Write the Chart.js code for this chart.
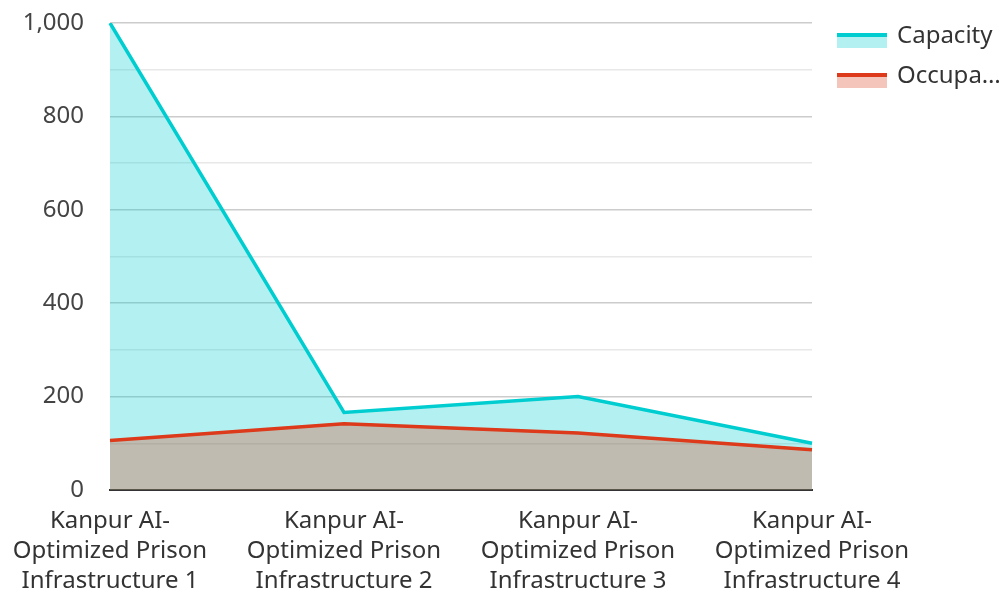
<!DOCTYPE html>
<html>
<head>
<meta charset="utf-8">
<script src="https://cdn.jsdelivr.net/npm/chart.js@4.4.1/dist/chart.umd.min.js"></script>
<style>
  html, body { margin: 0; padding: 0; background: #ffffff; }
  #wrap { width: 1004px; height: 594px; position: relative; }
</style>
</head>
<body>
<div id="wrap"><canvas id="chart" width="1004" height="594"></canvas></div>
<script>
// Facilities along the x axis (each label broken into display lines)
const categories = [
  ["Kanpur AI-", "Optimized Prison", "Infrastructure 1"],
  ["Kanpur AI-", "Optimized Prison", "Infrastructure 2"],
  ["Kanpur AI-", "Optimized Prison", "Infrastructure 3"],
  ["Kanpur AI-", "Optimized Prison", "Infrastructure 4"]
];
const seriesNames = ["Capacity", "Occupancy"];
const capacity = [1000, 166, 200, 100];
const occupancy = [106, 142, 122, 86];
const yTickValues = [0, 200, 400, 600, 800, 1000];

const FONT = "'Noto Sans', 'Open Sans', sans-serif";
const CAP_LINE = "#00cdd0";
const CAP_FILL = "rgba(0, 206, 209, 0.30)";
const OCC_LINE = "#dc3a1a";
const OCC_FILL = "rgba(220, 62, 26, 0.30)";

// Legend drawn at the upper right: a filled swatch topped by the line colour
const sideLegend = {
  id: "sideLegend",
  afterDraw(chart) {
    const ctx = chart.ctx;
    const boxX = 837, boxW = 50, boxH = 15, textX = 897;
    const maxTextW = chart.width - textX - 3;
    ctx.save();
    ctx.font = "24px " + FONT;
    ctx.textBaseline = "middle";
    chart.data.datasets.forEach((ds, i) => {
      const top = 33 + i * 40;
      ctx.fillStyle = ds.backgroundColor;
      ctx.fillRect(boxX, top, boxW, boxH);
      ctx.fillStyle = ds.borderColor;
      ctx.fillRect(boxX, top, boxW, 4);
      let label = ds.label;
      if (ctx.measureText(label).width > maxTextW) {
        while (label.length > 1 && ctx.measureText(label + "\u2026").width > maxTextW) {
          label = label.slice(0, -1);
        }
        label += "\u2026";
      }
      ctx.fillStyle = "#333333";
      ctx.fillText(label, textX, top + 3);
    });
    ctx.restore();
  }
};

new Chart(document.getElementById("chart"), {
  type: "line",
  data: {
    labels: categories,
    datasets: [
      {
        label: seriesNames[0],
        data: capacity,
        borderColor: CAP_LINE,
        backgroundColor: CAP_FILL,
        borderWidth: 3.5,
        fill: "origin",
        pointRadius: 0,
        tension: 0,
        order: 2
      },
      {
        label: seriesNames[1],
        data: occupancy,
        borderColor: OCC_LINE,
        backgroundColor: OCC_FILL,
        borderWidth: 3.5,
        fill: "origin",
        pointRadius: 0,
        tension: 0,
        order: 1
      }
    ]
  },
  options: {
    responsive: false,
    animation: false,
    layout: { padding: { top: 23, right: 192, bottom: 0, left: 0 } },
    plugins: {
      legend: { display: false },
      tooltip: { enabled: false },
      filler: { drawTime: "beforeDatasetsDraw" }
    },
    scales: {
      x: {
        type: "category",
        offset: false,
        grid: { display: false, drawTicks: false },
        border: { display: true, color: "#333333", width: 2 },
        ticks: {
          color: "#333333",
          font: { family: FONT, size: 24, lineHeight: 1.25 },
          padding: 16,
          maxRotation: 0,
          autoSkip: false
        },
        afterFit(scale) {
          scale.height = 104;
          scale.paddingLeft = 0;
          scale.paddingRight = 0;
          scale.paddingTop = 0;
          scale.paddingBottom = 0;
        }
      },
      y: {
        min: 0,
        max: 1000,
        grid: {
          drawTicks: false,
          color(ctx) {
            const v = ctx.tick ? ctx.tick.value : 0;
            return yTickValues.includes(v) ? "#cccccc" : "#e8e8e8";
          },
          lineWidth: 1.5
        },
        border: { display: false },
        ticks: {
          stepSize: 100,
          color: "#444444",
          font: { family: FONT, size: 24 },
          padding: 26,
          callback(value) {
            return yTickValues.includes(value) ? value.toLocaleString("en-US") : "";
          }
        },
        afterFit(scale) {
          scale.width = 110;
          scale.paddingTop = 0;
          scale.paddingBottom = 0;
          scale.paddingLeft = 0;
          scale.paddingRight = 0;
        }
      }
    }
  },
  plugins: [sideLegend]
});
</script>
</body>
</html>
